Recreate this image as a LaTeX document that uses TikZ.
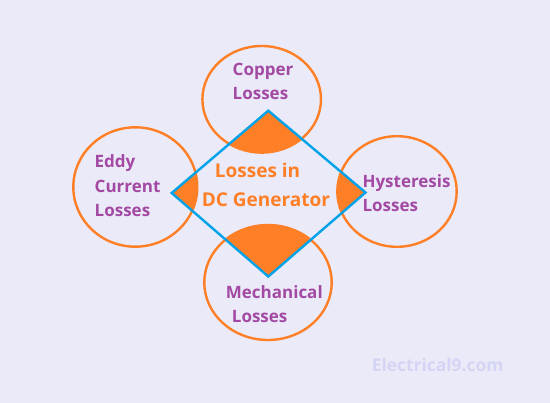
\documentclass[tikz,border=0pt]{standalone}
\usepackage{fontspec}
\setmainfont{Open Sans}
\usetikzlibrary{positioning}
\definecolor{bgLav}{RGB}{234,234,248}
\definecolor{lossOrange}{RGB}{255,127,39}
\definecolor{lossBlue}{RGB}{0,162,232}
\definecolor{lossPurple}{RGB}{163,73,164}
\definecolor{markLav}{RGB}{212,212,245}
\tikzset{
    loss ring/.style = {
        draw = lossOrange,
        line width = 2.4pt,
        },
    loss fill/.style = {
        fill = lossOrange,
        },
    frame/.style = {
        draw = lossBlue,
        line width = 2.4pt,
        line join = miter,
        },
    loss text/.style = {
        text = lossPurple,
        font = \fontsize{17}{24.5}\selectfont\bfseries,
        inner sep = 0pt,
        anchor = base west,
        align = left,
        },
    title/.style = {
        text = lossOrange,
        font = \fontsize{19}{29}\selectfont\bfseries,
        inner sep = 0pt,
        anchor = base west,
        align = left,
        },
    watermark/.style = {
        text = markLav,
        font = \fontsize{17.4}{22}\selectfont\bfseries,
        inner sep = 0pt,
        anchor = base west,
        },
}
\begin{document}
\begin{tikzpicture}[x=1pt,y=-1pt]
            \fill[bgLav] (0,0) rectangle (550,403);
            \useasboundingbox (0,0) rectangle (550,403);

            \coordinate (top) at (268.3,110.7);
            \coordinate (left) at (171.7,193);
            \coordinate (right) at (365.5,192.5);
            \coordinate (bottom) at (268.3,276.5);

            \coordinate (copper) at (261.7,99.3);
            \coordinate (eddy) at (135.3,187);
            \coordinate (hyst) at (397,191.5);
            \coordinate (mech) at (268,282.5);

            \begin{scope}
                \clip (top) -- (right) -- (bottom) -- (left) -- cycle;
                \fill[loss fill] (copper) ellipse [x radius=59.3pt, y radius=53.3pt];
                \fill[loss fill] (eddy) ellipse [x radius=62pt, y radius=59.7pt];
                \fill[loss fill] (hyst) ellipse [x radius=59.7pt, y radius=55.3pt];
                \fill[loss fill] (mech) ellipse [x radius=63.7pt, y radius=57.5pt];
            \end{scope}

            \draw[loss ring] (copper) ellipse [x radius=59.3pt, y radius=53.3pt];
            \draw[loss ring] (eddy) ellipse [x radius=62pt, y radius=59.7pt];
            \draw[loss ring] (hyst) ellipse [x radius=59.7pt, y radius=55.3pt];
            \draw[loss ring] (mech) ellipse [x radius=63.7pt, y radius=57.5pt];

            \draw[frame] (top) -- (right) -- (bottom) -- (left) -- cycle;

            % base = last line of each label
            \node[title] (dcgen) at (201.7,206.7) {\hspace{13pt}Losses in\\DC Generator};
            \node[loss text, anchor=base] (copperT) at (263,100) {Copper\\Losses};
            \node[loss text] (eddyT) at (94.5,217) {Eddy\\Current\\Losses};
            \node[loss text] (hystT) at (362.3,211.7) {Hysteresis\\Losses};
            \node[loss text] (mechT) at (225.7,322.7) {Mechanical\\\hspace{6pt}Losses};
            \node[watermark] (site) at (371.7,371.7) {Electrical9.com};
        \end{tikzpicture}
\end{document}
